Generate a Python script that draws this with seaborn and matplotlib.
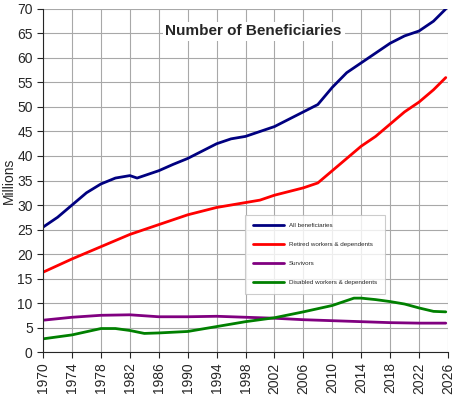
import pandas as pd
import matplotlib
matplotlib.use("Agg")
import matplotlib.pyplot as plt
import seaborn as sns

# data (millions)
all_years = [1970, 1972, 1974, 1976, 1978, 1980, 1982, 1983, 1984, 1986, 1988, 1990, 1992, 1994, 1996, 1998,
             2000, 2002, 2004, 2006, 2008, 2010, 2012, 2014, 2016, 2018, 2020, 2022, 2024, 2025.7]
all_vals = [25.5, 27.5, 30, 32.5, 34.3, 35.5, 36, 35.5, 36, 37, 38.3, 39.5, 41, 42.5, 43.5, 44,
            45, 46, 47.5, 49, 50.5, 54, 57, 59, 61, 63, 64.5, 65.5, 67.5, 70]
ret_years = [1970, 1974, 1978, 1982, 1986, 1990, 1994, 1998, 2000, 2002, 2006, 2008, 2010, 2012, 2014,
             2016, 2018, 2020, 2022, 2024, 2025.7]
ret_vals = [16.3, 19, 21.5, 24, 26, 28, 29.5, 30.5, 31, 32, 33.5, 34.5, 37, 39.5, 42, 44, 46.5, 49, 51, 53.5, 56]
surv_years = [1970, 1974, 1978, 1982, 1986, 1990, 1994, 1998, 2002, 2006, 2010, 2014, 2018, 2022, 2025.7]
surv_vals = [6.5, 7.1, 7.5, 7.6, 7.2, 7.2, 7.3, 7.1, 6.9, 6.6, 6.4, 6.2, 6.0, 5.9, 5.9]
dis_years = [1970, 1974, 1978, 1980, 1982, 1984, 1986, 1990, 1994, 1998, 2002, 2006, 2010, 2013, 2014,
             2016, 2018, 2020, 2022, 2024, 2025.7]
dis_vals = [2.7, 3.5, 4.8, 4.8, 4.4, 3.8, 3.9, 4.2, 5.2, 6.2, 7.0, 8.2, 9.5, 11.0, 11.0,
            10.7, 10.3, 9.8, 9.0, 8.3, 8.2]

series = [
    ("All beneficiaries", all_years, all_vals, "#000080"),
    ("Retired workers & dependents", ret_years, ret_vals, "#ff0000"),
    ("Survivors", surv_years, surv_vals, "#800080"),
    ("Disabled workers & dependents", dis_years, dis_vals, "#008000"),
]
frames = [pd.DataFrame({"Year": y, "Value": v, "Series": name}) for name, y, v, _ in series]
df = pd.concat(frames, ignore_index=True)
palette = {name: c for name, _, _, c in series}

sns.set_style("ticks")
plt.rcParams["font.family"] = ["Liberation Sans", "DejaVu Sans"]

fig = plt.figure(figsize=(4.74, 4.07), dpi=100)
ax = fig.add_axes([0.091, 0.135, 0.854, 0.843])
sns.lineplot(data=df, x="Year", y="Value", hue="Series", palette=palette, linewidth=2, ax=ax)

ax.set_xlim(1970, 2026)
ax.set_ylim(0, 70)
ax.set_xticks(range(1970, 2027, 4))
ax.set_yticks(range(0, 71, 5))
ax.tick_params(axis="x", labelrotation=90, labelsize=10, length=4)
ax.tick_params(axis="y", labelsize=10, length=4)
ax.grid(True, color="#a8a8a8", linewidth=0.8)
for s in ["top", "right"]:
    ax.spines[s].set_visible(False)
ax.set_xlabel("")
ax.set_ylabel("Millions", fontsize=10)
ax.yaxis.set_label_coords(-0.068, 0.5)
ax.text(0.52, 0.935, "Number of Beneficiaries", transform=ax.transAxes, ha="center", va="center",
        fontsize=11, fontweight="bold", bbox=dict(facecolor="white", edgecolor="none", pad=2))

leg = ax.legend(loc="upper left", bbox_to_anchor=(0.49, 0.41), fontsize=4.5, frameon=True,
                fancybox=False, edgecolor="#c0c0c0", labelspacing=2.2, handlelength=5,
                borderpad=1.3)
leg.get_frame().set_linewidth(0.8)

fig.savefig("out.png", dpi=100)
